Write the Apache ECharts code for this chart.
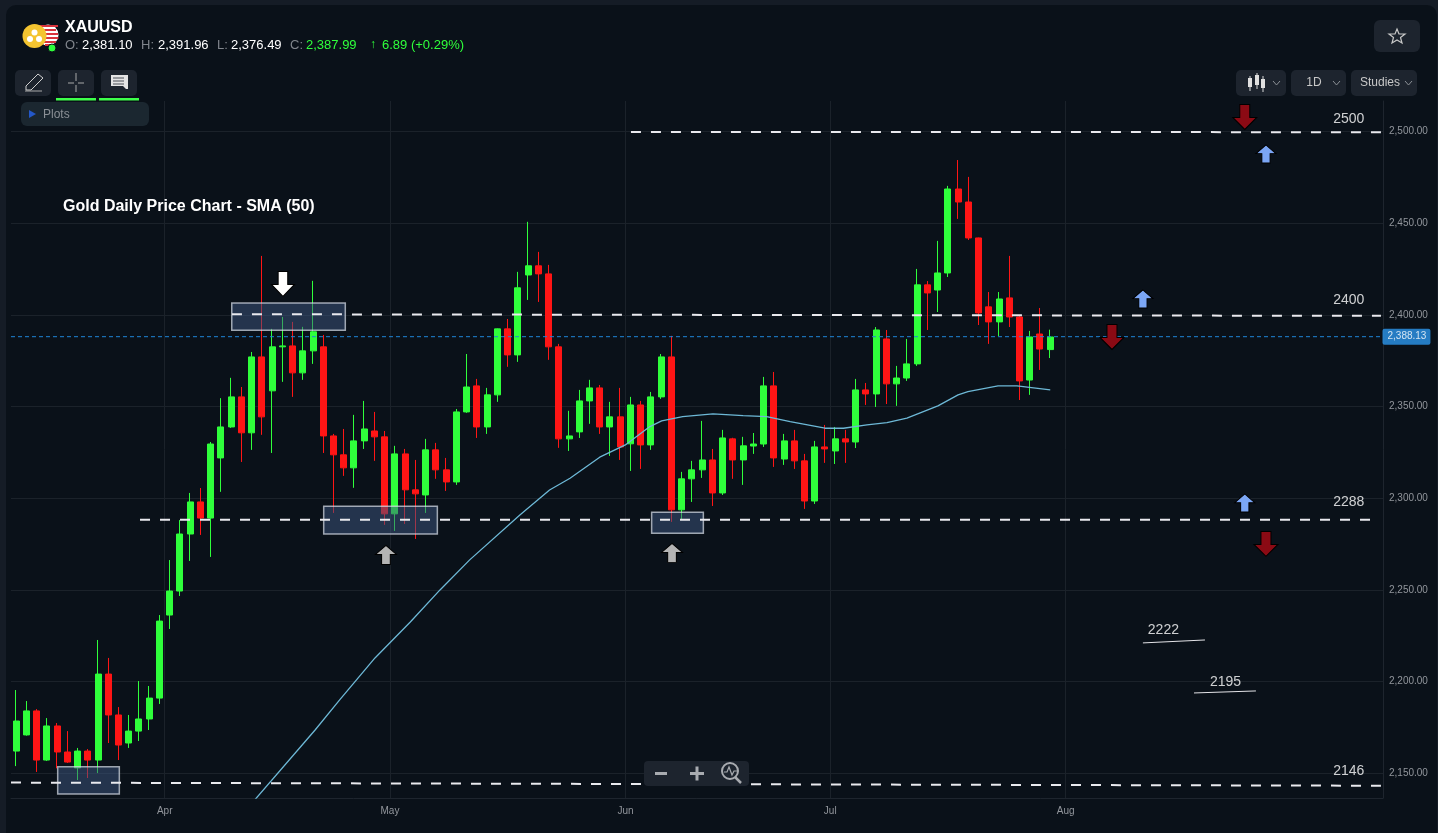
<!DOCTYPE html>
<html><head><meta charset="utf-8">
<style>
html,body{margin:0;padding:0;width:1438px;height:833px;overflow:hidden;background:#151c26}
#panel{position:absolute;left:6px;top:5px;width:1431px;height:850px;border-radius:10px;background:#0a1119}
#main{position:absolute;left:0;top:0;width:1438px;height:833px}
</style>
<script src="https://cdn.jsdelivr.net/npm/echarts@6/dist/echarts.min.js"></script>
</head><body><div id="panel"></div><div id="main"></div>
<script>
const marDays=[11,12,13,14,15,18,19,20,21,22,25,26,27,28,29];
const aprDays=[1,2,3,4,5,8,9,10,11,12,15,16,17,18,19,22,23,24,25,26,29,30];
const mayDays=[1,2,3,6,7,8,9,10,13,14,15,16,17,20,21,22,23,24,27,28,29,30,31];
const junDays=[3,4,5,6,7,10,11,12,13,14,17,18,19,20,21,24,25,26,27,28];
const julDays=[1,2,3,4,5,8,9,10,11,12,15,16,17,18,19,22,23,24,25,26,29,30,31];
const augDays=[1,2,5,6,7,8,9,12,13,14,15,16,19,20,21,22,23,26,27,28,29,30];
const sepDays=[2,3,4,5,6,9,10,11,12];
const categories=[].concat(
  marDays.map(d=>'Mar '+d),aprDays.map(d=>'Apr '+d),mayDays.map(d=>'May '+d),
  junDays.map(d=>'Jun '+d),julDays.map(d=>'Jul '+d),augDays.map(d=>'Aug '+d),sepDays.map(d=>'Sep '+d));
const monthTicks={'Apr 1':'Apr','May 1':'May','Jun 3':'Jun','Jul 1':'Jul','Aug 1':'Aug'};

const opens=[2162.1,2170.9,2184.0,2157.2,2175.8,2161.6,2152.9,2162.1,2157.2,2204.1,2181.8,2166.5,2173.0,2179.6,2191.0,2236.3,2249.4,2280.5,2298.0,2289.2,
2322.0,2338.9,2355.3,2335.7,2377.1,2358.6,2382.6,2383.1,2368.4,2380.4,2382.6,2334.0,2323.7,2316.6,2331.3,2336.7,2333.5,2291.5,2324.2,2304.6,
2301.8,2326.4,2315.5,2308.9,2347.1,2361.3,2338.9,2356.4,2392.4,2378.2,2421.8,2426.8,2422.4,2382.6,2332.4,2336.2,2353.1,2360.2,2338.9,2344.4,
2329.7,2350.9,2329.1,2355.3,2377.1,2293.7,2310.6,2315.5,2320.9,2302.9,2332.4,2320.9,2328.5,2329.6,2361.3,2321.4,2331.3,2320.4,2298.5,2328.0,
2325.8,2332.4,2330.7,2359.1,2356.9,2386.9,2362.4,2365.6,2373.3,2416.4,2413.6,2422.9,2468.7,2461.6,2442.0,2404.4,2396.2,2409.3,2398.9,2364.5,2389.6,2381.10];
const closes=[2178.5,2184.0,2157.2,2175.8,2161.6,2156.1,2162.1,2157.2,2204.1,2181.8,2165.4,2173.0,2179.6,2191.0,2233.0,2249.4,2280.5,2298.0,2289.2,2329.6,
2338.9,2355.3,2335.7,2377.1,2344.4,2382.6,2383.1,2368.4,2380.4,2390.8,2334.0,2323.7,2316.6,2331.3,2337.8,2333.5,2291.5,2324.2,2304.6,2302.4,
2326.4,2315.5,2308.9,2347.1,2360.7,2338.9,2356.4,2392.4,2378.2,2414.8,2426.8,2422.4,2382.6,2332.4,2334.0,2353.1,2360.2,2338.9,2344.4,2328.0,
2350.9,2329.1,2355.3,2377.1,2293.7,2310.6,2315.5,2320.9,2302.9,2332.9,2320.9,2328.6,2329.6,2361.3,2322.0,2331.3,2320.4,2298.5,2328.0,2326.9,
2332.4,2330.7,2359.1,2356.9,2391.8,2362.4,2365.6,2373.3,2416.4,2412.0,2422.9,2468.7,2461.6,2442.0,2401.1,2396.2,2408.7,2398.9,2364.0,2388.0,2381.4,2387.99];
const lows=[2153.9,2170.5,2150.7,2156.7,2152.7,2155.6,2146.3,2147.4,2150.1,2166.5,2157.2,2163.8,2167.6,2173.6,2187.8,2228.7,2246.7,2265.8,2280.0,2268.0,
2303.5,2338.4,2319.8,2326.4,2334.6,2324.7,2363.5,2355.3,2364.6,2373.3,2324.7,2292.0,2312.2,2305.7,2326.9,2320.4,2285.5,2282.2,2286.0,2277.8,
2292.0,2310.6,2304.0,2307.3,2346.6,2332.9,2335.1,2352.6,2371.7,2374.4,2408.2,2407.1,2375.5,2327.5,2325.8,2332.9,2340.6,2335.1,2323.1,2320.9,
2314.9,2316.0,2326.4,2354.2,2287.1,2288.2,2298.0,2311.1,2295.8,2301.8,2310.6,2307.3,2324.2,2328.0,2317.1,2318.2,2316.0,2294.2,2296.9,2319.3,
2318.7,2319.3,2327.4,2350.9,2349.8,2351.4,2350.4,2364.0,2372.2,2391.8,2401.6,2420.7,2452.4,2440.9,2394.5,2384.2,2388.5,2393.4,2353.6,2356.4,2370.0,2376.49];
const highs=[2195.4,2189.4,2185.0,2180.1,2177.4,2173.0,2163.8,2163.2,2222.7,2212.9,2186.1,2181.8,2200.3,2197.6,2236.3,2266.3,2288.1,2302.9,2305.6,2330.7,
2354.6,2365.7,2360.7,2379.8,2432.2,2392.4,2398.9,2396.2,2393.5,2418.6,2389.1,2335.1,2337.8,2345.5,2353.1,2347.1,2336.7,2328.6,2326.9,2320.9,
2332.4,2330.2,2322.0,2348.7,2378.7,2365.1,2360.2,2392.6,2397.8,2423.5,2450.8,2434.4,2427.3,2384.2,2347.7,2359.1,2364.6,2361.8,2352.6,2360.2,
2355.3,2353.1,2358.0,2378.7,2388.6,2314.4,2320.4,2342.2,2326.9,2337.3,2333.0,2333.5,2335.6,2366.2,2368.9,2335.1,2337.3,2324.2,2331.3,2340.0,
2338.9,2337.3,2365.1,2362.9,2393.4,2391.8,2372.2,2386.9,2425.1,2418.5,2440.4,2470.4,2484.5,2475.3,2442.2,2412.5,2412.5,2432.2,2400.0,2391.3,2403.8,2391.96];

const smaPoints=[[22.8,2132.2],[29.2,2173.6],[31.6,2190.0],[35.05,2212.9],[38.5,2232.5],[41.4,2250.0],[44.3,2266.4],[49.2,2290.9],[52.1,2304.5],[54.1,2310.9],[57.0,2322.4],[59.5,2329.1],[61.9,2339.1],[63.05,2342.2],[65.1,2344.5],[68.06,2346.0],[71.0,2345.1],[73.3,2344.5],[75.6,2341.8],[79.0,2338.2],[80.8,2338.2],[83.1,2340.0],[85.05,2341.3],[87.0,2343.7],[90.03,2350.4],[92.0,2356.4],[92.96,2358.2],[95.9,2361.3],[97.75,2361.3],[101.0,2359.1]];
const levelLines=[
 [[60.05,2499.8],[133.3,2499.7]],
 [[21.08,2400.4],[133.3,2399.5]],
 [[12.1,2288.3],[132.4,2288.3]],
 [[-0.5,2144.9],[133.3,2143.2]]];
const trendNotes=[
 [[110.05,2221.1],[116.11,2222.7]],
 [[115.04,2193.8],[121.09,2194.9]]];
const currentPrice=2388.13;
const boxes=[[21.06,32.15,2406.5,2391.7],[30.04,41.14,2295.6,2280.5],[62.07,67.12,2292.4,2280.9],[4.06,10.08,2153.6,2138.7]];
const whiteDown=[[26.06,2416.9]];
const grayUp=[[36.12,2269.1],[64.06,2270.2]];
const blueUp=[[110.05,2408.7],[122.07,2487.8],[120.0,2297.4]];
const redDown=[[107.03,2388.0],[120.0,2508.0],[122.07,2275.1]];
const notes=[['2500',130.15,2507.0],['2400',130.15,2408.2],['2288',130.15,2298.0],['2146',130.15,2151.3],['2222',112.05,2228.2],['2195',118.12,2199.9]];
const priceTicks=[2150,2200,2250,2300,2350,2400,2450,2500];

const FONT='"Liberation Sans"';
const UP='path://M12 0L24 12L17 12L17 25L7 25L7 12L0 12Z';
const DOWN='path://M7 0L17 0L17 13L24 13L12 25L0 13L7 13Z';
function arrows(data,sym,color,size){return {type:'scatter',xAxisIndex:1,data,symbol:sym,symbolSize:size,z:8,silent:true,
  itemStyle:{color,borderColor:'#000',borderWidth:1,opacity:1}};}
function segment(pts,style){return {type:'line',xAxisIndex:1,data:pts,symbol:'none',silent:true,z:6,lineStyle:style};}

const series=[
 {type:'candlestick',data:opens.map((o,i)=>[o,closes[i],lows[i],highs[i]]),barWidth:6.5,z:3,silent:true,
  itemStyle:{color:'#2fff3b',color0:'#ff1515',borderColor:'#2fff3b',borderColor0:'#ff1515',borderWidth:1}},
 {type:'line',xAxisIndex:1,data:smaPoints,symbol:'none',z:4,silent:true,lineStyle:{color:'#6db8d6',width:1.3}},
 segment([[-0.5,currentPrice],[133.5,currentPrice]],{color:'#1f86d8',width:1,type:[4,3]}),
 {type:'custom',xAxisIndex:1,z:5,silent:true,data:boxes,encode:{x:[0,1],y:[2,3]},
  renderItem:(p,api)=>{const a=api.coord([api.value(0),api.value(2)]),b=api.coord([api.value(1),api.value(3)]);
   return {type:'rect',shape:{x:a[0],y:a[1],width:b[0]-a[0],height:b[1]-a[1]},
    style:{fill:'rgba(62,88,130,0.5)',stroke:'rgba(215,220,230,0.72)',lineWidth:1.5}};}},
 ...levelLines.map(l=>segment(l,{color:'#e9e9ee',width:2,type:[10,10]})),
 ...trendNotes.map(l=>segment(l,{color:'#e4e4e8',width:1})),
 arrows(whiteDown,DOWN,'#ffffff',[23,25]),
 arrows(grayUp,UP,'#b4b4b4',[21,19]),
 arrows(blueUp,UP,'#7ba6f5',[20,18]),
 arrows(redDown,DOWN,'#8b0a14',[24,25]),
 {type:'scatter',xAxisIndex:1,silent:true,z:9,symbolSize:1,itemStyle:{color:'rgba(0,0,0,0)'},
  data:notes.map(n=>({value:[n[1],n[2]],name:n[0]})),
  label:{show:true,position:'inside',formatter:'{b}',color:'#fff',fontFamily:FONT,fontSize:14}},
 {type:'scatter',xAxisIndex:1,silent:true,z:9,symbolSize:1,itemStyle:{color:'rgba(0,0,0,0)'},clip:false,
  data:[[133.5,currentPrice]],
  label:{show:true,position:'right',distance:-1,formatter:()=>'2,388.13',color:'#fff',fontFamily:FONT,fontSize:10,
   backgroundColor:'#2c97ee',padding:[3,4,3,5],borderRadius:2}}
];

/* ---- chrome ---- */
const gfx=[];
const rect=(x,y,w,h,fill,r=5)=>gfx.push({type:'rect',z:100,shape:{x,y,width:w,height:h,r},style:{fill}});
const txt=(text,x,y,fill,size,bold,align='left')=>gfx.push({type:'text',z:100,style:{text,x,y,fill,align,verticalAlign:'middle',font:(bold?'bold ':'')+size+'px '+FONT}});
const ln=(x1,y1,x2,y2,stroke,w=1)=>gfx.push({type:'line',z:100,shape:{x1,y1,x2,y2},style:{stroke,lineWidth:w}});
const poly=(points,stroke,w=1,fill)=>gfx.push({type:fill?'polygon':'polyline',z:100,shape:{points},style:{stroke,lineWidth:w,fill:fill||null}});
const circ=(cx,cy,r,fill,stroke,w)=>gfx.push({type:'circle',z:100,shape:{cx,cy,r},style:{fill:fill||null,stroke:stroke||null,lineWidth:w||1}});
const BTN='#1d242e';
txt('Gold Daily Price Chart - SMA (50)',63,207,'#ffffff',16,true);
/* logo */
circ(48,35,10.5,'#ffffff');
[[26,10],[30,8],[34,10],[38,10.4],[42,8],[45,3]].forEach(s=>{const y=s[0];ln(48-s[1],y,48+s[1],y,'#d8323c',2);});
circ(34.5,36,12,'#f4c430');
circ(34.5,32.5,3,'#fff');circ(30,39,3,'#fff');circ(39,39,3,'#fff');
circ(52,48,4,'#2fff3b','#0a1119',1);
/* header */
txt('XAUUSD',65,28,'#ffffff',16,true);
txt('O:',65,45,'#80858c',13);txt('2,381.10',82,45,'#ffffff',13);
txt('H:',141,45,'#80858c',13);txt('2,391.96',158,45,'#ffffff',13);
txt('L:',217,45,'#80858c',13);txt('2,376.49',231,45,'#ffffff',13);
txt('C:',290,45,'#80858c',13);txt('2,387.99',306,45,'#2fff3b',13);
txt('↑',370,45,'#2fff3b',12);txt('6.89 (+0.29%)',382,45,'#2fff3b',13);
/* tool buttons */
rect(15,70,36,26,BTN);rect(58,70,36,26,BTN);rect(101,70,36,26,BTN);
poly([[26,90],[26,86],[38,74],[43,78],[31,90],[26,90]],'#d0d0d0',1);ln(25,91,42,91,'#a8a8a8',1);
ln(68,83,74,83,'#a8a8a8',1);ln(78,83,84,83,'#a8a8a8',1);ln(76,73,76,81,'#a8a8a8',1);ln(76,85,76,92,'#a8a8a8',1);
poly([[111,75],[128,75],[128,89],[126,89],[123,86],[111,86]],null,1,'#e4e4e4');
[78,81,84].forEach(y=>ln(113,y,124,y,'#4a4f57',1));
rect(56,98,40,2.5,'#3eff4a',0);rect(99,98,40,2.5,'#3eff4a',0);
rect(21,102,128,24,'#1b2730',6);
poly([[29,110],[36,114],[29,118]],null,1,'#2458c8');
txt('Plots',43,115,'#8b9096',12);
/* right controls */
rect(1374,20,46,32,BTN,6);
poly([[1397,29],[1399,34],[1405,34],[1400.5,37.5],[1402,43],[1397,40],[1392,43],[1393.5,37.5],[1389,34],[1395,34]],'#c8c8c8',1.2,'rgba(0,0,0,0)');
rect(1236,70,50,26,BTN);rect(1291,70,55,26,BTN);rect(1351,70,66,26,BTN);
[[1250,76,91,78,87],[1257,73,89,75,85],[1263,76,92,79,88]].forEach(c=>{ln(c[0],c[1],c[0],c[2],'#d8d8d8',1);rect(c[0]-2,c[3],4,c[4]-c[3],'#e0e0e0',0);});
const chev=x=>poly([[x,81],[x+3.5,85],[x+7,81]],'#8b9096',1);
chev(1273);chev(1333);chev(1405);
txt('1D',1314,83,'#c8c8c8',12,false,'center');
txt('Studies',1380,83,'#c8c8c8',12,false,'center');
/* zoom controls */
rect(644,761,105,25,'#1d242e',4);
rect(655,772,12,3,'#a8abb0',0);
rect(690,772,14,3,'#a8abb0',0);rect(695.5,766.5,3,14,'#a8abb0',0);
circ(730,771,8,null,'#a8abb0',2);ln(735,777,741,783,'#a8abb0',2.5);
poly([[724,772],[727,772],[729,767],[732,775],[734,771],[737,771]],'#a8abb0',1.2);

const option={
 animation:false,backgroundColor:'transparent',
 grid:{left:11,right:55,top:101,bottom:35,containLabel:false},
 xAxis:[
  {type:'category',data:categories,boundaryGap:true,position:'bottom',
   axisLine:{show:true,onZero:false,lineStyle:{color:'#1e252e'}},axisTick:{show:false},
   axisLabel:{color:'#92969c',fontFamily:FONT,fontSize:10,margin:8,padding:[0,10,0,0],
     interval:(i,v)=>v in monthTicks,formatter:v=>monthTicks[v]||''},
   splitLine:{show:true,interval:(i,v)=>v in monthTicks,lineStyle:{color:'#1b222a'}}},
  {type:'value',min:-0.5,max:133.5,show:false,splitLine:{show:false}}
 ],
 yAxis:{type:'value',position:'right',min:2136.5,max:2516.7,scale:true,
  axisLine:{show:true,onZero:false,lineStyle:{color:'#1e252e'}},
  axisTick:{show:false,customValues:priceTicks},
  axisLabel:{color:'#92969c',fontFamily:FONT,fontSize:10,margin:6,customValues:priceTicks,
    formatter:v=>v.toLocaleString('en-US',{minimumFractionDigits:2,maximumFractionDigits:2})},
  splitLine:{show:true,lineStyle:{color:'#1b222a'}}},
 series,
 graphic:{elements:gfx}
};
const chart=echarts.init(document.getElementById('main'),null,{renderer:'canvas'});
chart.setOption(option);
</script></body></html>
